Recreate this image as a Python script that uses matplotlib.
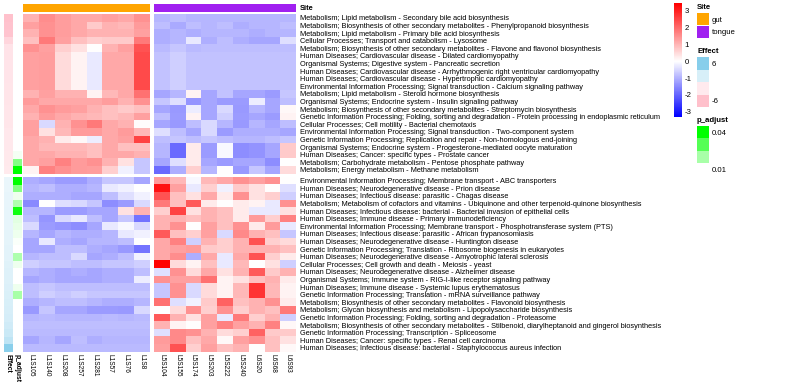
import numpy as np
import matplotlib
matplotlib.use("Agg")
import matplotlib.pyplot as plt
from matplotlib.colors import LinearSegmentedColormap, Normalize
from matplotlib.patches import Rectangle
from matplotlib.cm import ScalarMappable

plt.rcParams['font.family'] = ['Liberation Sans', 'DejaVu Sans']
plt.rcParams['axes.unicode_minus'] = False

# ---------------- data ----------------
gut_samples = ["L1S105", "L1S140", "L1S208", "L1S257", "L1S281", "L1S57", "L1S76", "L1S8"]
tongue_samples = ["L5S104", "L5S155", "L5S174", "L5S203", "L5S222", "L5S240", "L6S20", "L6S68", "L6S93"]

pathways_top = [
    "Metabolism; Lipid metabolism - Secondary bile acid biosynthesis",
    "Metabolism; Biosynthesis of other secondary metabolites - Phenylpropanoid biosynthesis",
    "Metabolism; Lipid metabolism - Primary bile acid biosynthesis",
    "Cellular Processes; Transport and catabolism - Lysosome",
    "Metabolism; Biosynthesis of other secondary metabolites - Flavone and flavonol biosynthesis",
    "Human Diseases; Cardiovascular disease - Dilated cardiomyopathy",
    "Organismal Systems; Digestive system - Pancreatic secretion",
    "Human Diseases; Cardiovascular disease - Arrhythmogenic right ventricular cardiomyopathy",
    "Human Diseases; Cardiovascular disease - Hypertrophic cardiomyopathy",
    "Environmental Information Processing; Signal transduction - Calcium signaling pathway",
    "Metabolism; Lipid metabolism - Steroid hormone biosynthesis",
    "Organismal Systems; Endocrine system - Insulin signaling pathway",
    "Metabolism; Biosynthesis of other secondary metabolites - Streptomycin biosynthesis",
    "Genetic Information Processing; Folding, sorting and degradation - Protein processing in endoplasmic reticulum",
    "Cellular Processes; Cell motility - Bacterial chemotaxis",
    "Environmental Information Processing; Signal transduction - Two-component system",
    "Genetic Information Processing; Replication and repair - Non-homologous end-joining",
    "Organismal Systems; Endocrine system - Progesterone-mediated oocyte maturation",
    "Human Diseases; Cancer: specific types - Prostate cancer",
    "Metabolism; Carbohydrate metabolism - Pentose phosphate pathway",
    "Metabolism; Energy metabolism - Methane metabolism",
]
pathways_bottom = [
    "Environmental Information Processing; Membrane transport - ABC transporters",
    "Human Diseases; Neurodegenerative disease - Prion disease",
    "Human Diseases; Infectious disease: parasitic - Chagas disease",
    "Metabolism; Metabolism of cofactors and vitamins - Ubiquinone and other terpenoid-quinone biosynthesis",
    "Human Diseases; Infectious disease: bacterial - Bacterial invasion of epithelial cells",
    "Human Diseases; Immune disease - Primary immunodeficiency",
    "Environmental Information Processing; Membrane transport - Phosphotransferase system (PTS)",
    "Human Diseases; Infectious disease: parasitic - African trypanosomiasis",
    "Human Diseases; Neurodegenerative disease - Huntington disease",
    "Genetic Information Processing; Translation - Ribosome biogenesis in eukaryotes",
    "Human Diseases; Neurodegenerative disease - Amyotrophic lateral sclerosis",
    "Cellular Processes; Cell growth and death - Meiosis - yeast",
    "Human Diseases; Neurodegenerative disease - Alzheimer disease",
    "Organismal Systems; Immune system - RIG-I-like receptor signaling pathway",
    "Human Diseases; Immune disease - Systemic lupus erythematosus",
    "Genetic Information Processing; Translation - mRNA surveillance pathway",
    "Metabolism; Biosynthesis of other secondary metabolites - Flavonoid biosynthesis",
    "Metabolism; Glycan biosynthesis and metabolism - Lipopolysaccharide biosynthesis",
    "Genetic Information Processing; Folding, sorting and degradation - Proteasome",
    "Metabolism; Biosynthesis of other secondary metabolites - Stilbenoid, diarylheptanoid and gingerol biosynthesis",
    "Genetic Information Processing; Transcription - Spliceosome",
    "Human Diseases; Cancer: specific types - Renal cell carcinoma",
    "Human Diseases; Infectious disease: bacterial - Staphylococcus aureus infection",
]

gut_top = [
    [1.05, 1.53, 1.32, 1.16, 1.16, 1.27, 1.16, 1.48],
    [1.27, 1.48, 1.32, 1.16, 0.73, 1.05, 0.95, 1.36],
    [1.05, 1.48, 1.32, 1.16, 1.05, 1.05, 1.05, 1.27],
    [0.84, 1.80, 1.27, 0.84, 0.63, 0.73, 0.73, 1.80],
    [1.48, 1.27, 0.63, 0.41, 0.02, 1.05, 1.27, 2.33],
    [1.27, 1.32, 0.49, 0.17, -0.28, 1.16, 1.16, 2.44],
    [1.27, 1.32, 0.49, 0.17, -0.28, 1.16, 1.16, 2.44],
    [1.27, 1.32, 0.49, 0.17, -0.28, 1.16, 1.16, 2.44],
    [1.27, 1.32, 0.49, 0.17, -0.28, 1.16, 1.16, 2.44],
    [1.27, 1.32, 0.49, 0.17, -0.28, 1.16, 1.16, 2.44],
    [1.05, 1.27, 1.05, 1.05, 0.17, 0.95, 1.16, 1.91],
    [1.36, 1.16, 1.16, 1.16, 1.16, 1.32, 1.05, 1.48],
    [1.16, 1.48, 1.36, 1.27, 1.05, 0.84, 0.73, 0.84],
    [1.05, 1.36, 1.16, 1.05, 0.95, 0.84, 0.95, 1.27],
    [1.27, -0.49, 1.05, 1.48, 1.80, 1.16, 1.05, 0.03],
    [1.27, 0.41, 0.95, 1.36, 1.36, 1.16, 1.36, 0.95],
    [1.16, 1.05, 0.28, 0.09, -0.23, 1.16, 1.27, 2.55],
    [1.16, 0.95, 0.95, 0.95, 0.84, 1.16, 0.84, 0.84],
    [1.16, 1.16, 1.05, 1.05, 0.84, 1.16, 1.16, 1.05],
    [1.16, 1.27, 1.69, 1.36, 1.48, 1.05, 0.41, -0.73],
    [0.17, 1.69, 1.48, 1.36, 1.32, 0.63, -0.17, -0.73],
]
tongue_top = [
    [-0.95, -0.84, -0.95, -0.95, -0.95, -0.95, -0.95, -0.95, -0.95],
    [-0.84, -1.10, -0.84, -0.95, -0.84, -1.05, -0.95, -0.95, -0.84],
    [-1.05, -0.95, -1.05, -0.95, -0.95, -0.95, -1.05, -0.95, -0.95],
    [-1.05, -0.95, -0.28, -1.05, -0.84, -1.05, -1.16, -1.16, -0.41],
    [-0.88, -0.73, -0.88, -0.84, -0.84, -0.84, -0.84, -0.84, -0.84],
    [-0.79, -0.63, -0.79, -0.79, -0.79, -0.79, -0.79, -0.79, -0.79],
    [-0.79, -0.63, -0.79, -0.79, -0.79, -0.79, -0.79, -0.79, -0.79],
    [-0.79, -0.63, -0.79, -0.79, -0.79, -0.79, -0.79, -0.79, -0.79],
    [-0.79, -0.63, -0.79, -0.79, -0.79, -0.79, -0.79, -0.79, -0.79],
    [-0.79, -0.63, -0.79, -0.79, -0.79, -0.79, -0.79, -0.79, -0.79],
    [-1.16, -0.95, 0.17, -1.16, -0.79, -1.16, -1.16, -1.27, -0.73],
    [-0.73, -0.41, -1.36, -1.16, -1.27, -1.27, -0.23, -1.16, -0.84],
    [-1.16, -1.32, -0.23, -1.16, -0.49, -1.32, -0.95, -1.16, 0.09],
    [-0.84, -1.27, 0.17, -1.16, -0.63, -1.27, -1.16, -1.27, 0.17],
    [-1.16, -1.32, -0.84, -0.49, -0.95, -1.32, -0.95, -1.16, -0.84],
    [-0.41, -0.84, -1.16, -0.49, -1.27, -1.05, -1.05, -1.05, -1.16],
    [-0.84, -0.73, -0.84, -0.73, -0.84, -0.95, -0.95, -0.84, -0.73],
    [-0.95, -1.91, 0.28, -1.27, -0.09, -1.48, -1.40, -1.16, 0.73],
    [-0.95, -1.91, 0.28, -1.27, -0.09, -1.48, -1.40, -1.16, 0.73],
    [-1.16, -0.41, 0.28, -1.16, -1.27, -1.16, -1.16, -1.48, 0.00],
    [-1.91, -1.05, 0.63, -0.95, 0.00, -1.32, -0.73, -1.16, 0.49],
]
gut_bottom = [
    [-1.05, -1.16, -1.27, -1.27, -1.05, -0.73, -0.73, -1.16],
    [-0.95, -0.84, -1.05, -1.05, -0.95, -0.28, -0.17, -0.02],
    [-1.05, -1.05, -1.05, -1.16, -1.16, -0.84, -0.41, -0.17],
    [-1.53, 0.02, -0.41, -0.49, -0.73, -1.48, -1.27, -0.49],
    [-0.95, -0.95, -1.27, -1.27, -1.16, -1.16, 0.41, 1.05],
    [-0.84, -1.36, -0.49, -0.28, -0.84, -1.16, -0.73, -1.80],
    [-0.49, -1.27, -1.36, -1.48, -1.16, -0.28, -0.09, -0.49],
    [-0.95, -1.16, -0.95, -1.05, -1.05, -0.95, -0.28, -0.17],
    [-1.16, -0.28, -1.05, -1.16, -0.95, -0.95, -0.84, -0.02],
    [-1.16, -1.16, -0.84, -0.84, -1.05, -1.16, -1.32, -1.80],
    [-0.95, -0.84, -0.84, -0.49, -1.16, -1.05, -0.84, -0.17],
    [-0.63, -0.73, -0.73, -0.84, -0.84, -0.73, -0.73, -0.63],
    [-0.95, -1.05, -1.16, -1.05, -1.16, -1.05, -1.05, -0.84],
    [-1.16, -1.05, -1.16, -1.16, -1.16, -1.05, -1.05, -0.23],
    [-0.84, -0.73, -0.84, -0.84, -0.84, -0.84, -0.84, -0.84],
    [-0.84, -0.63, -0.73, -0.63, -0.73, -0.73, -0.73, -0.73],
    [-1.05, -0.95, -0.84, -0.84, -0.95, -1.05, -1.05, -0.95],
    [-1.32, -0.73, -1.16, -1.16, -1.27, -1.27, -1.32, -0.49],
    [-0.95, -0.90, -0.95, -0.95, -0.95, -0.90, -0.95, -0.90],
    [-0.84, -0.84, -0.84, -0.84, -0.84, -0.84, -0.84, -0.84],
    [-0.90, -0.90, -0.90, -0.90, -0.90, -0.90, -0.90, -0.90],
    [-1.16, -0.95, -1.16, -0.84, -1.05, -0.95, -0.95, -0.95],
    [-0.90, -0.90, -0.90, -0.90, -0.90, -0.90, -0.90, -0.90],
]
tongue_bottom = [
    [1.36, 0.95, -0.09, 0.95, 1.16, 1.48, 1.27, 1.48, 0.00],
    [3.19, 1.27, -0.28, 0.63, -0.17, 0.73, 0.41, 0.00, -0.41],
    [2.33, 0.84, 0.41, 1.16, 0.28, 1.48, 0.41, 0.63, -0.63],
    [1.80, 0.84, 2.23, 0.28, 0.00, 0.28, 0.17, -0.28, 1.48],
    [0.63, 2.55, 0.41, 1.05, 0.84, 0.28, -0.28, -0.28, 0.41],
    [1.05, 1.05, 0.84, 1.05, 0.84, 0.28, 1.36, 0.63, 1.69],
    [1.05, 1.48, 0.00, 1.27, 0.84, 1.48, 0.28, 1.36, -0.28],
    [2.23, 0.84, 0.63, 1.27, -0.49, 1.59, 1.05, 0.84, -0.73],
    [1.16, 1.69, -0.63, 1.05, 0.63, 1.05, 2.33, 0.63, 0.49],
    [1.16, 1.27, 1.36, 0.73, 0.63, 1.05, 1.05, 1.05, 0.84],
    [1.16, 1.53, -1.05, 1.16, -0.28, 1.16, 2.33, 0.63, 0.28],
    [3.40, 0.49, 0.17, 0.84, -0.28, 0.95, 0.00, 0.41, -0.63],
    [-0.41, 1.48, 0.49, 1.16, 0.41, 1.05, 2.23, 0.73, 1.05],
    [1.48, 1.27, 1.27, 1.91, 0.17, 0.41, 0.84, 1.05, 0.28],
    [-0.73, 1.48, -0.49, 0.49, 0.17, 0.95, 2.76, 0.95, 0.17],
    [-0.73, 1.48, -0.49, 0.49, 0.17, 0.95, 2.76, 0.95, 0.17],
    [1.91, -0.41, -0.17, 0.73, 2.12, 0.84, 1.05, 1.48, 0.28],
    [0.00, 0.49, 1.48, 0.63, 1.48, 0.63, 1.05, 0.84, 1.80],
    [2.23, 1.05, 0.41, 1.27, -0.28, 1.80, 0.63, 1.05, -0.63],
    [1.05, 0.17, 0.00, 1.27, 1.69, 1.27, 1.05, 1.69, 0.09],
    [-0.41, 1.59, 1.48, 1.05, 0.49, 0.63, 2.12, 0.73, 0.73],
    [1.36, 1.59, 0.84, 1.16, 0.09, 1.27, 1.48, 0.84, 0.41],
    [1.27, 2.33, 0.63, 1.27, 0.84, 1.05, 0.00, 0.84, 0.09],
]

effect_top = [-5.8, -5.6, -5.5, -3.8, -2.6, -2.6, -2.5, -2.5, -2.5, -2.4, -2.4,
              -2.4, -2.3, -2.3, -2.3, -2.2, -2.2, -2.2, -2.1, -2.1, -2.0]
effect_bottom = [1.0, 1.0, 1.1, 1.1, 1.2, 1.2, 1.2, 1.3, 1.3, 1.4, 1.4,
                 1.5, 1.6, 1.6, 1.7, 1.8, 1.9, 2.0, 2.1, 2.3, 2.6, 3.2, 5.8]
padj_top = [0.001] * 18 + [0.003, 0.022, 0.045]
padj_bottom = [0.045, 0.022, 0.004, 0.015, 0.042, 0.006, 0.005, 0.004, 0.002, 0.001, 0.015,
               0.004, 0.001, 0.001, 0.004, 0.016, 0.001, 0.001, 0.001, 0.001, 0.001, 0.001, 0.001]

site_names = ["gut", "tongue"]
site_colors = ["#FFA500", "#A020F0"]

# ---------------- figure ----------------
W, H = 800, 388
fig = plt.figure(figsize=(W / 100, H / 100), dpi=100)


def add_ax(x0, y0, x1, y1):
    ax = fig.add_axes([x0 / W, 1 - y1 / H, (x1 - x0) / W, (y1 - y0) / H])
    for s in ax.spines.values():
        s.set_visible(False)
    ax.set_xticks([])
    ax.set_yticks([])
    return ax


hm_vmin, hm_vmax = -3.3, 3.45
hm_cmap = LinearSegmentedColormap.from_list(
    "bwr_p", [(0.0, "#0000FF"), (-hm_vmin / (hm_vmax - hm_vmin), "#FFFFFF"), (1.0, "#FF0000")])
hm_norm = Normalize(hm_vmin, hm_vmax)

eff_cmap = LinearSegmentedColormap.from_list("eff", ["#FFC0CB", "#FFFFFF", "#87CEEB"])
eff_norm = Normalize(-6, 6)
p_cmap = LinearSegmentedColormap.from_list("padj", ["#FFFFFF", "#00FF00"])
p_norm = Normalize(0.001, 0.045)

gx = (23.3, 150.0)
tx = (154.0, 296.2)
top_y = (14.0, 173.6)
bot_y = (176.8, 351.6)
row_fs = 5.3
col_fs = 4.7


def draw_hm(ax, data):
    arr = np.array(data)
    ax.pcolormesh(arr, cmap=hm_cmap, norm=hm_norm, antialiased=False, edgecolors="none")
    ax.set_xlim(0, arr.shape[1])
    ax.set_ylim(arr.shape[0], 0)


ax_gt = add_ax(gx[0], top_y[0], gx[1], top_y[1]); draw_hm(ax_gt, gut_top)
ax_tt = add_ax(tx[0], top_y[0], tx[1], top_y[1]); draw_hm(ax_tt, tongue_top)
ax_gb = add_ax(gx[0], bot_y[0], gx[1], bot_y[1]); draw_hm(ax_gb, gut_bottom)
ax_tb = add_ax(tx[0], bot_y[0], tx[1], bot_y[1]); draw_hm(ax_tb, tongue_bottom)

for ax, names in ((ax_tt, pathways_top), (ax_tb, pathways_bottom)):
    ax.yaxis.tick_right()
    ax.set_yticks(np.arange(len(names)) + 0.5)
    ax.set_yticklabels(names, fontsize=row_fs)
    ax.tick_params(axis="y", length=0, pad=2.4)

for ax, names in ((ax_gb, gut_samples), (ax_tb, tongue_samples)):
    ax.set_xticks(np.arange(len(names)) + 0.5)
    ax.set_xticklabels(names, rotation=270, fontsize=col_fs)
    ax.tick_params(axis="x", length=0, pad=1.5)

# column annotation (Site)
for (x0, x1), col, last in ((gx, site_colors[0], False), (tx, site_colors[1], True)):
    a = add_ax(x0, 4.0, x1, 11.7)
    a.set_facecolor(col)
    a.set_xlim(0, 1); a.set_ylim(0, 1)
    if last:
        a.yaxis.tick_right()
        a.set_yticks([0.5])
        a.set_yticklabels(["Site"], fontsize=row_fs, fontweight="bold")
        a.tick_params(axis="y", length=0, pad=2.4)

# row annotations (Effect, p_adjust)
for (y0, y1), eff, pv, last in ((top_y, effect_top, padj_top, False), (bot_y, effect_bottom, padj_bottom, True)):
    a = add_ax(4.0, y0, 21.6, y1)
    rgb = np.stack([eff_cmap(eff_norm(np.array(eff)))[:, :3],
                    p_cmap(p_norm(np.array(pv)))[:, :3]], axis=1)
    a.imshow(rgb, aspect="auto", interpolation="nearest", extent=(0, 2, len(eff), 0))
    a.set_xlim(0, 2); a.set_ylim(len(eff), 0)
    if last:
        a.set_xticks([0.5, 1.5])
        a.set_xticklabels(["Effect", "p_adjust"], rotation=270, fontsize=col_fs + 0.2, fontweight="bold")
        a.tick_params(axis="x", length=0, pad=1.5)

# colorbar
cax = fig.add_axes([674 / W, 1 - 116.7 / H, 8 / W, (116.7 - 3.3) / H])
cb = fig.colorbar(ScalarMappable(norm=hm_norm, cmap=hm_cmap), cax=cax)
cb.outline.set_visible(False)
cb.set_ticks([-3, -2, -1, 0, 1, 2, 3])
cax.tick_params(length=0, labelsize=5.6, pad=2)

# legends
lx, bw = 696.7, 12.0
tfs = 5.6


def fbox(y0, y1, color):
    fig.add_artist(Rectangle((lx / W, 1 - y1 / H), bw / W, (y1 - y0) / H,
                             transform=fig.transFigure, facecolor=color, edgecolor="none"))


def ftext(x, y, s, **kw):
    fig.text(x / W, 1 - y / H, s, va="center", ha="left", fontsize=tfs, **kw)


ftext(697, 7.3, "Site", fontweight="bold")
fbox(13.3, 25.3, site_colors[0]); fbox(25.7, 37.7, site_colors[1])
ftext(712, 20.0, site_names[0]); ftext(712, 32.5, site_names[1])

ftext(697, 51.7, "Effect", fontweight="bold")
eff_leg = [6, 2, -2, -6]
for i, v in enumerate(eff_leg):
    fbox(57.3 + i * 12.4, 57.3 + (i + 1) * 12.4, eff_cmap(eff_norm(v)))
ftext(712, 64.3, "6"); ftext(712, 101.7, "-6")

ftext(697, 120.5, "p_adjust", fontweight="bold")
p_leg = [0.045, 0.0305, 0.016]
for i, v in enumerate(p_leg):
    fbox(126.0 + i * 12.45, 126.0 + (i + 1) * 12.45, p_cmap(p_norm(v)))
ftext(712, 133.3, "0.04"); ftext(712, 171.0, "0.01")

fig.savefig("out.png", dpi=100)
